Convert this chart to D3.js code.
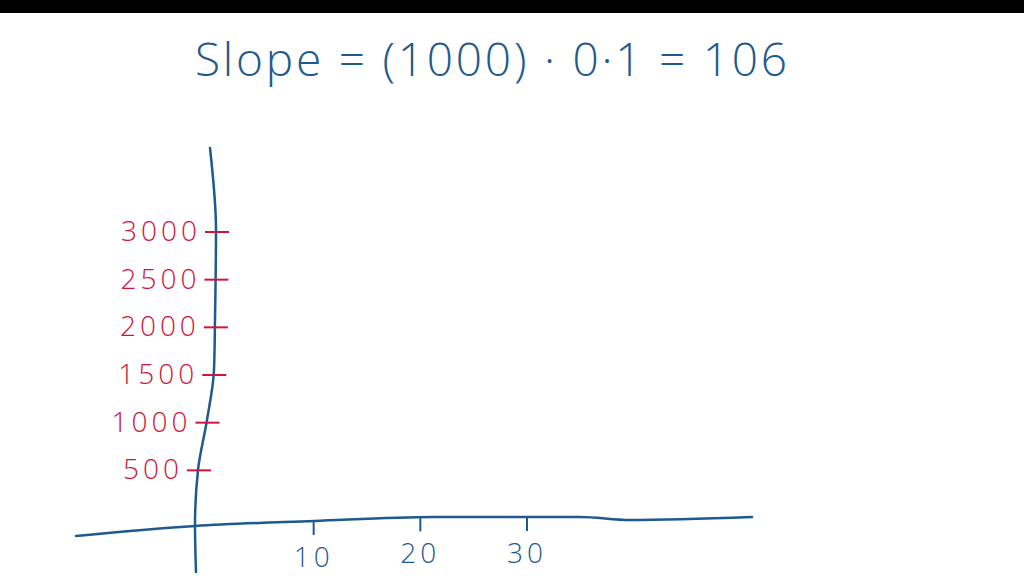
<!DOCTYPE html>
<html>
<head>
<meta charset="utf-8">
<script src="https://cdn.jsdelivr.net/npm/d3@7"></script>
<style>
  html, body { margin: 0; padding: 0; background: #fff; }
  svg { display: block; }
</style>
</head>
<body>
<div id="chart"></div>
<script>
// values
var titleText = "Slope = (1000) · 0·1 = 106";
var yTicks = [500, 1000, 1500, 2000, 2500, 3000];
var xTicks = [10, 20, 30];

var width = 1024, height = 576;
var blue = "#1f5a8e", red = "#d2143c";

var svg = d3.select("#chart").append("svg")
    .attr("width", width).attr("height", height);

// dark strip across the top of the frame
svg.append("rect")
    .attr("x", 0).attr("y", 0)
    .attr("width", width).attr("height", 13)
    .attr("fill", "#000");

// title
svg.append("text")
    .attr("x", 195).attr("y", 76)
    .attr("textLength", 592)
    .attr("lengthAdjust", "spacing")
    .style("font-family", "'Open Sans', sans-serif")
    .style("font-weight", 300)
    .style("font-size", "46px")
    .style("fill", blue)
    .text(titleText);

var y = d3.scaleLinear().domain([0, 3000]).range([518, 232]);
var x = d3.scaleLinear().domain([0, 30]).range([207, 527]);

// the hand drawn axes wander a little: where each one sits along its length
var yAxisX = d3.scaleLinear()
    .domain([148, 230, 320, 370, 420, 470, 525, 572])
    .range([210, 216, 215, 214, 207, 198, 195, 196]);
var xAxisY = d3.scaleLinear()
    .domain([76, 195, 314, 433, 580, 630, 752])
    .range([536, 526, 521, 517, 517, 520, 517]);

svg.append("path")
    .attr("d", d3.line().curve(d3.curveMonotoneY)
        .x(d => yAxisX(d)).y(d => d)(yAxisX.domain()))
    .attr("fill", "none")
    .attr("stroke", blue).attr("stroke-width", 2.5)
    .attr("stroke-linecap", "round");

svg.append("path")
    .attr("d", d3.line().curve(d3.curveMonotoneX)
        .x(d => d).y(d => xAxisY(d))(xAxisY.domain()))
    .attr("fill", "none")
    .attr("stroke", blue).attr("stroke-width", 2.5)
    .attr("stroke-linecap", "round");

// y ticks: red, crossing the axis
var gy = svg.append("g")
    .call(d3.axisLeft(y).tickValues(yTicks).tickFormat(d3.format("d"))
        .tickSize(12).tickPadding(6));
gy.select(".domain").remove();
gy.selectAll(".tick")
    .attr("transform", d => "translate(" + (yAxisX(y(d)) + 1) + "," + y(d) + ")");
gy.selectAll(".tick line")
    .attr("x1", 12)
    .attr("stroke", red).attr("stroke-width", 2);
gy.selectAll(".tick text")
    .attr("x", -16)
    .style("font-family", "'Open Sans', sans-serif")
    .style("font-weight", 300)
    .style("font-size", "28px")
    .style("letter-spacing", "4px")
    .style("fill", red);

// x ticks: short blue marks below the axis
var gx = svg.append("g")
    .call(d3.axisBottom(x).tickValues(xTicks).tickSize(14).tickPadding(12));
gx.select(".domain").remove();
gx.selectAll(".tick")
    .attr("transform", d => "translate(" + x(d) + "," + xAxisY(x(d)) + ")");
gx.selectAll(".tick line")
    .attr("stroke", blue).attr("stroke-width", 2);
gx.selectAll(".tick text")
    .style("font-family", "'Open Sans', sans-serif")
    .style("font-weight", 300)
    .style("font-size", "28px")
    .style("letter-spacing", "4px")
    .style("fill", blue);
</script>
</body>
</html>
